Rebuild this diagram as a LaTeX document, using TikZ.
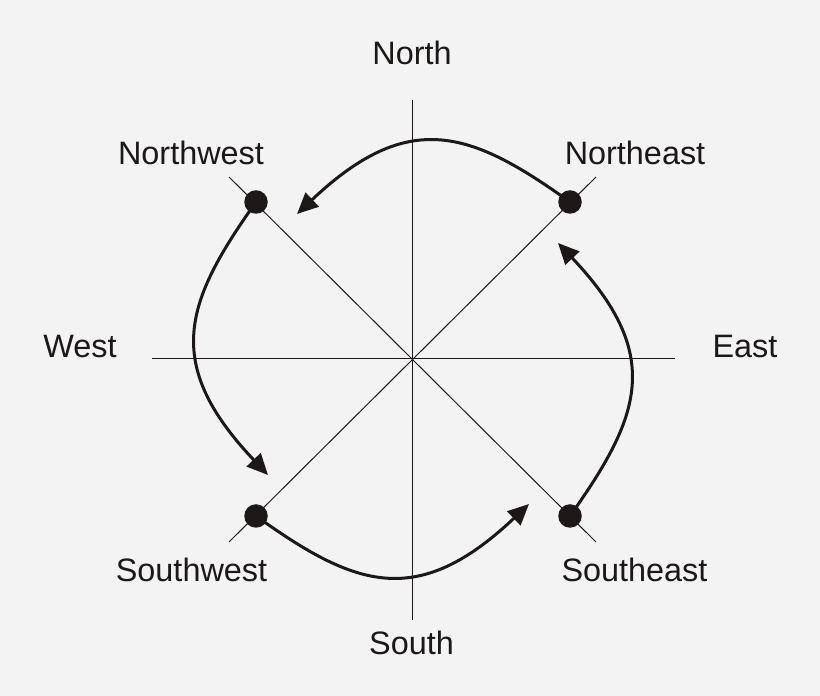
\documentclass[tikz,border=0pt]{standalone}
\usepackage{fontspec}
\setmainfont{Liberation Sans}
\usetikzlibrary{arrows.meta}
\definecolor{bgc}{RGB}{243,243,243}
\definecolor{ink}{RGB}{28,24,24}
\tikzset{
  thinline/.style={draw=ink, line width=1pt},
  dotnode/.style={circle, fill=ink, inner sep=0pt, minimum size=23.5pt},
  arcarrow/.style={draw=ink, line width=3pt, -{Triangle[length=21pt,width=19pt]}},
  lbl/.style={anchor=base, text=ink, font=\fontsize{32.4}{38}\selectfont, inner sep=0pt}
}
\begin{document}
\begin{tikzpicture}[x=1pt,y=1pt]
\fill[bgc] (0,0) rectangle (820,696);
\useasboundingbox (0,0) rectangle (820,696);
% axes
\coordinate (vt) at (412,596);
\coordinate (vb) at (412,76);
\coordinate (hl) at (152,337);
\coordinate (hr) at (675,337);
\coordinate (dnw) at (229,519);
\coordinate (dse) at (596,154);
\coordinate (dne) at (596,519);
\coordinate (dsw) at (229,154);
\draw[thinline] (vt) -- (vb);
\draw[thinline] (hl) -- (hr);
\draw[thinline] (dnw) -- (dse);
\draw[thinline] (dne) -- (dsw);
% dots
\node[dotnode] (nw) at (256,494) {};
\node[dotnode] (ne) at (570,494) {};
\node[dotnode] (sw) at (256,180) {};
\node[dotnode] (se) at (570,180) {};
% arrow tips
\coordinate (tnw) at (297,482);
\coordinate (tsw) at (268,221);
\coordinate (tse) at (529,192);
\coordinate (tne) at (558,453);
% arcs
\draw[arcarrow] (ne.center) .. controls (471,565) and (409,588) .. (tnw);
\draw[arcarrow] (nw.center) .. controls (185,394) and (162,333) .. (tsw);
\draw[arcarrow] (sw.center) .. controls (355,109) and (417,86) .. (tse);
\draw[arcarrow] (se.center) .. controls (641,280) and (664,341) .. (tne);
% labels
\node[lbl] (lN) at (412,631) {North};
\node[lbl] (lNW) at (191,531) {Northwest};
\node[lbl] (lNE) at (635,531) {Northeast};
\node[lbl] (lW) at (80,338) {West};
\node[lbl] (lE) at (745,338) {East};
\node[lbl] (lSW) at (191.5,114) {Southwest};
\node[lbl] (lSE) at (634.5,114) {Southeast};
\node[lbl] (lS) at (411.5,41) {South};
\end{tikzpicture}
\end{document}
